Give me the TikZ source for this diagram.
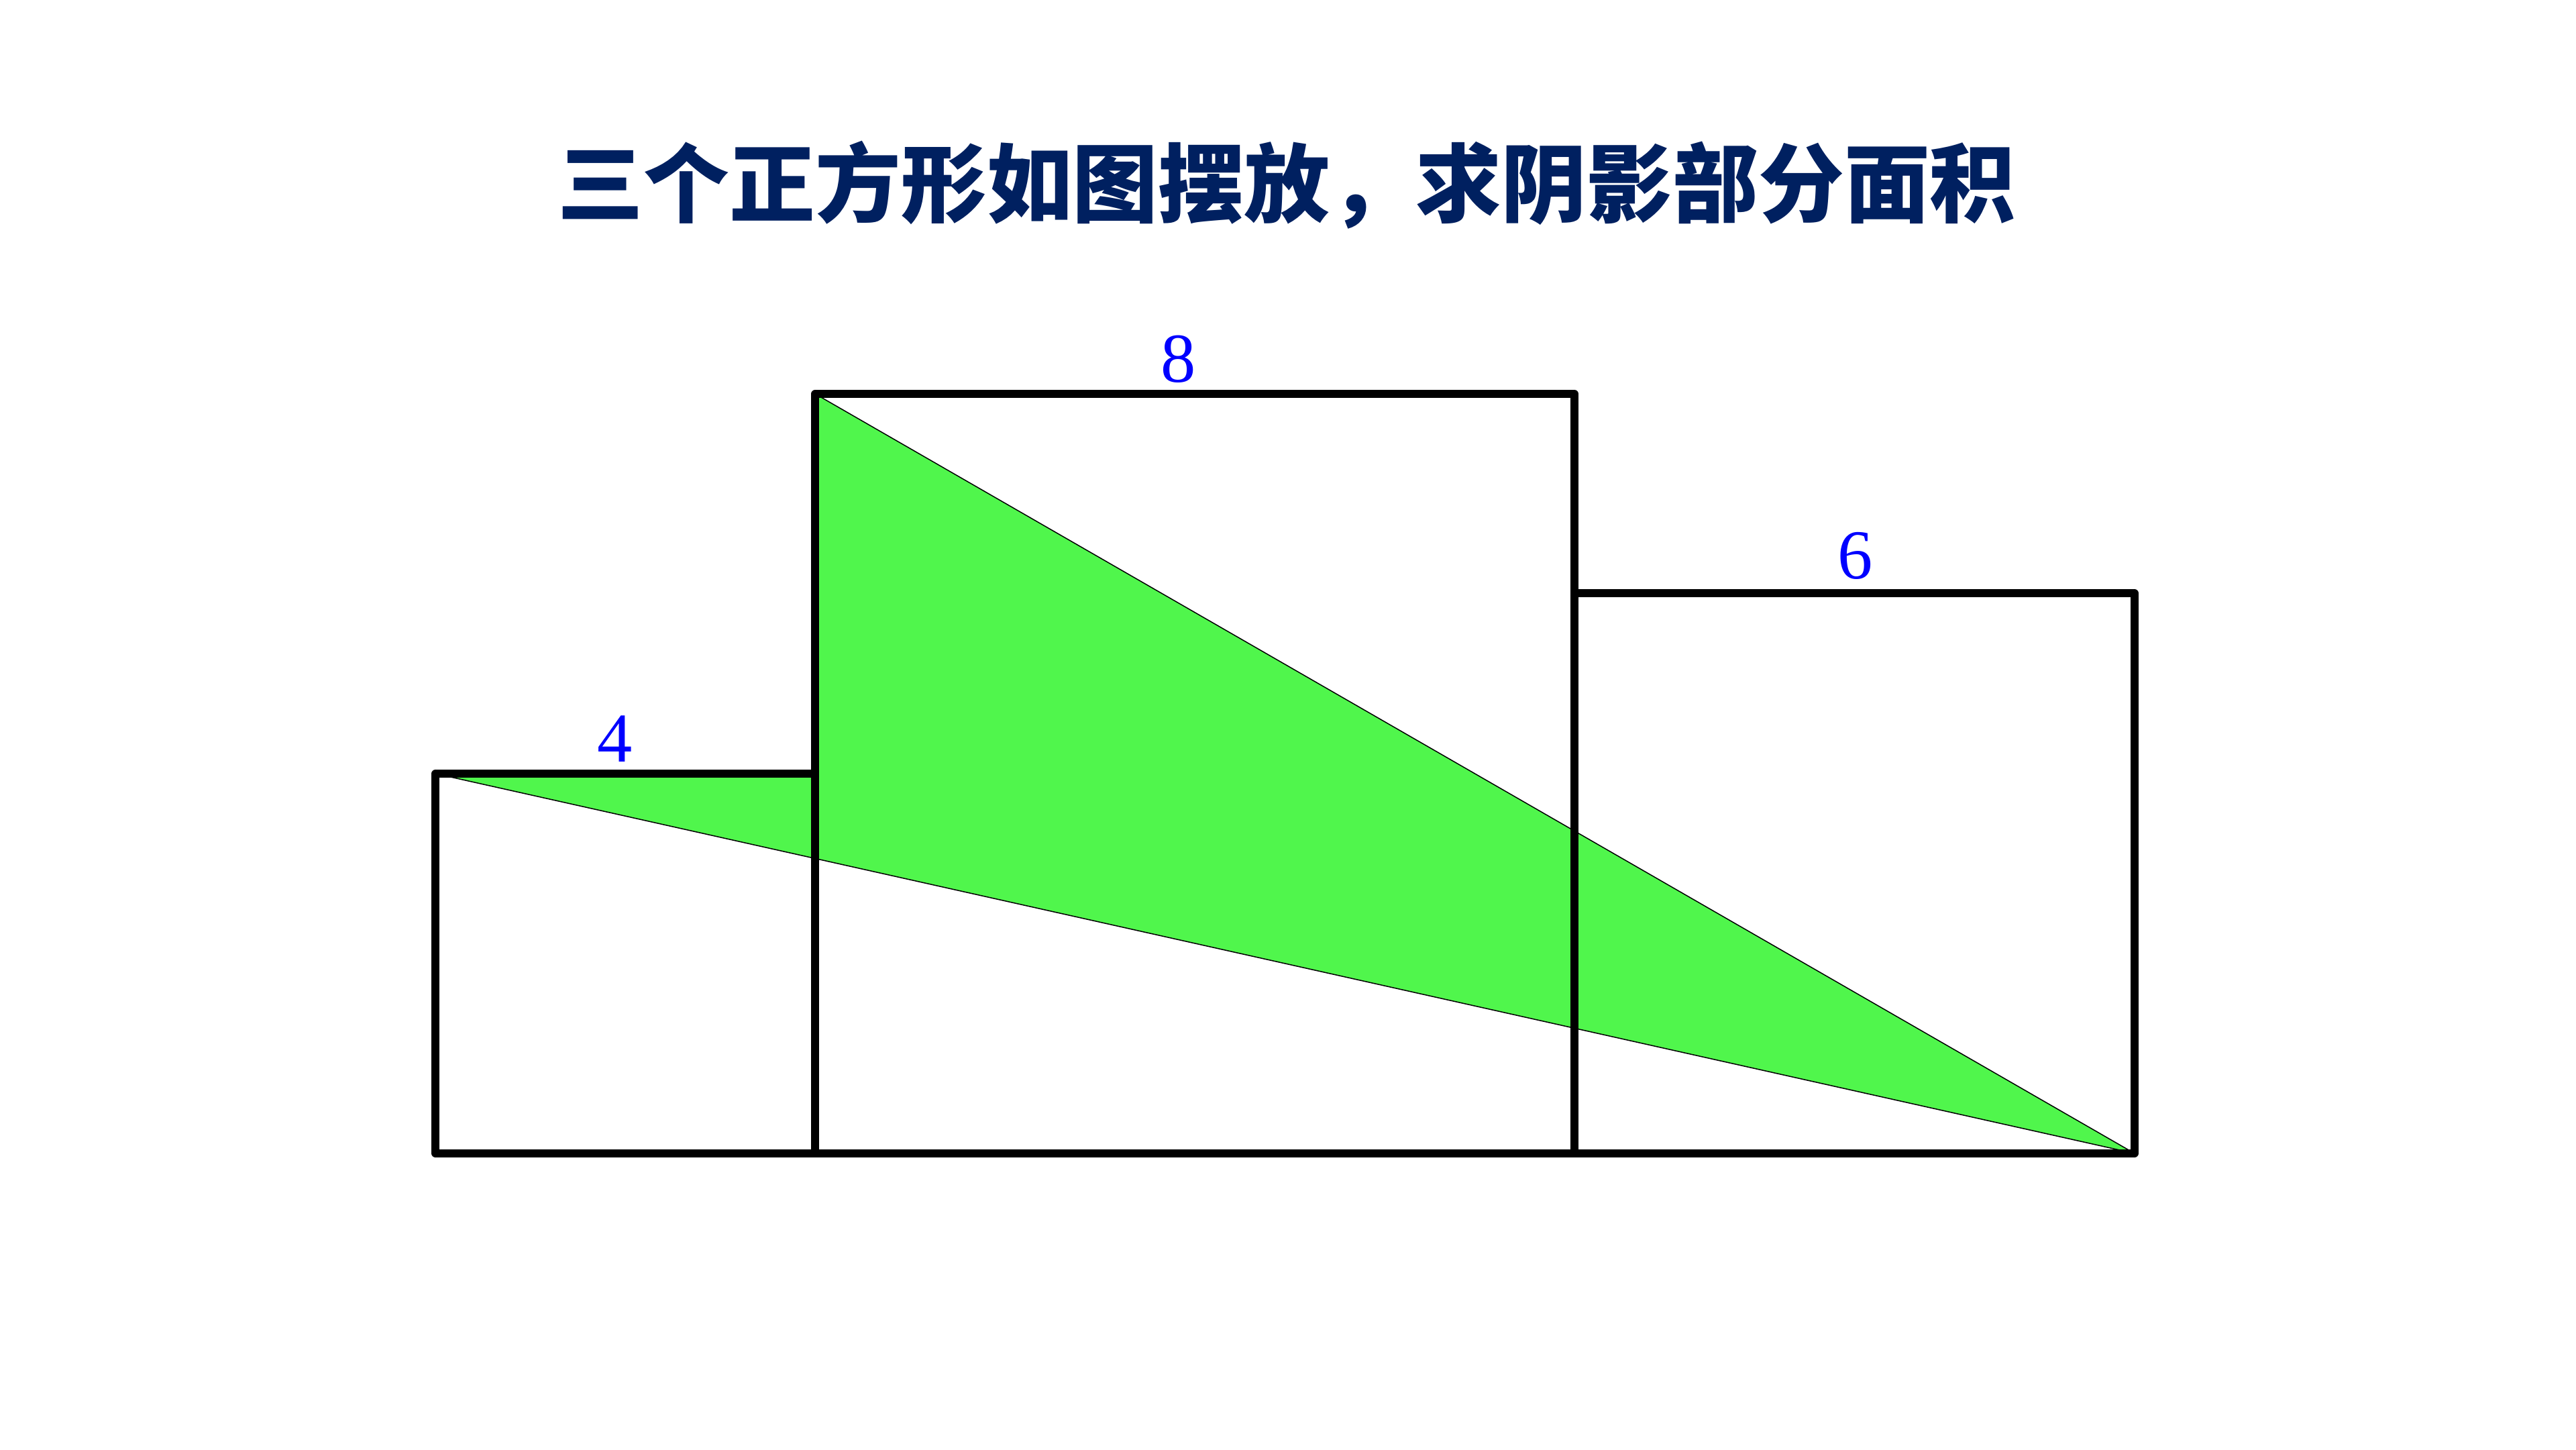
\documentclass[tikz,border=0pt]{standalone}
\usepackage{fontspec}
\newfontfamily\cjk{Noto Sans CJK SC}
\newfontfamily\numfont{Liberation Serif}
\usetikzlibrary{positioning}
\definecolor{titleblue}{RGB}{0,32,96}
\definecolor{areagreen}{RGB}{80,246,76}

\begin{document}
\begin{tikzpicture}[
line join=round,
square/.style={draw=black,
								line width=2.3pt,
								line join=round},
green part/.style={fill=areagreen,
								draw=black,
								line width=0.3pt},
side label/.style={anchor=base,
								inner sep=0pt,
								text=blue,
								font=\numfont\fontsize{21}{25}\selectfont},
title/.style={text=titleblue,
								font=\cjk\bfseries\fontsize{25.7}{30}\selectfont}]
\useasboundingbox (-4.587,-3.117) rectangle (22.55,12.148);
%corners
  \coordinate (O) at (0,0);
  \coordinate (P) at (0,4);
  \coordinate (Q) at (4,4);
  \coordinate (R) at (4,8);
  \coordinate (S) at (17.9,0);
%shaded area
  \fill[green part] (P) -- (Q) -- (R) -- (S) -- cycle;
%1
  \draw[square] (O) rectangle (Q);
  \node[side label] (a) at (1.89,4.12) {4};
%2
  \draw[square] (4,0) rectangle (12,8);
  \node[side label] (b) at (7.83,8.12) {8};
%3
  \draw[square] (12,0) rectangle (17.9,5.9);
  \node[side label] (c) at (14.96,6.05) {6};
%title
  \node[title] (t) at (8.97,10.20) {三个正方形如图摆放，求阴影部分面积};
\end{tikzpicture}
\end{document}
